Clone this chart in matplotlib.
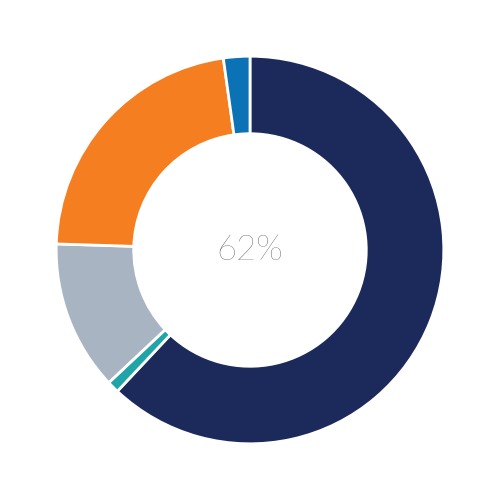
import matplotlib.pyplot as plt

labels = ["Navy", "Teal", "Gray", "Orange", "Blue"]
values = [62, 1, 12.5, 22.3, 2.2]
colors = ["#1b2a5a", "#1fa5a8", "#a9b4c2", "#f47e20", "#0a72b5"]
center_text = "62%"

fig = plt.figure(figsize=(5, 5), dpi=100)
ax = fig.add_axes([0, 0, 1, 1])
ax.pie(values, colors=colors, startangle=90, counterclock=False,
       wedgeprops=dict(width=0.4, edgecolor="white", linewidth=2))
ax.text(0, 0, center_text, ha="center", va="center", fontsize=25,
        color="#3a3f47", family="Lato", fontweight="light")
ax.set_xlim(-1.29, 1.29)
ax.set_ylim(-1.29, 1.29)
ax.set_aspect("equal")
ax.axis("off")
fig.savefig("out.png", dpi=100, facecolor="white")
